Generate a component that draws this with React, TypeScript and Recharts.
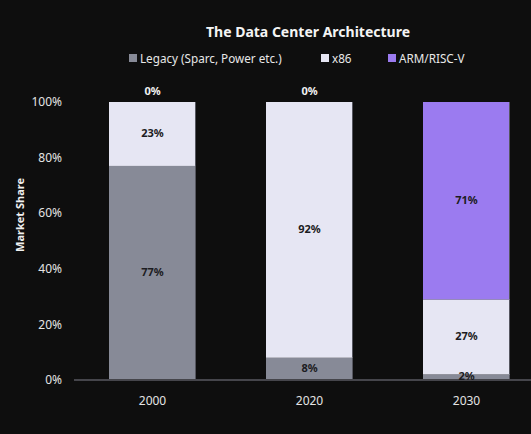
import { Bar, BarChart, LabelList, XAxis, YAxis, Label } from "recharts"

const years = ["2000", "2020", "2030"]
const legacy = [77, 8, 2]
const x86 = [23, 92, 27]
const arm = [0, 0, 71]
const yTicks = [0, 20, 40, 60, 80, 100]

const series = [
    { key: "legacy", name: "Legacy (Sparc, Power etc.)", color: "#878a97" },
    { key: "x86", name: "x86", color: "#e6e6f3" },
    { key: "arm", name: "ARM/RISC-V", color: "#9b7bf0" },
]
// legend item left edges
const legendX = [129, 321, 388]

const data = years.map((year, i) => ({ year, legacy: legacy[i], x86: x86[i], arm: arm[i] }))

const font = "'Noto Sans', sans-serif"

const EdgeBar = (props: any) => {
    const { x, y, width, height, fill } = props
    if (!height || height <= 0) return null
    return (
        <g>
            <rect x={x} y={y} width={width} height={height} fill={fill} />
            <line x1={x + width - 0.5} x2={x + width - 0.5} y1={y} y2={y + height} stroke="#55565f" strokeWidth={1} />
        </g>
    )
}

const SegmentLabel = (props: any) => {
    const { x, y, width, height, value } = props
    if (value === 0) {
        return (
            <text x={x + width / 2} y={y - 10} textAnchor="middle" dominantBaseline="middle"
                fill="#f2f2f2" fontSize={11} fontWeight={700} fontFamily={font}>
                0%
            </text>
        )
    }
    return (
        <text x={x + width / 2} y={y + height / 2} textAnchor="middle" dominantBaseline="middle"
            fill="#1c1c22" fontSize={11} fontWeight={700} fontFamily={font}>
            {value}%
        </text>
    )
}

export default function App() {
    return (
        <div style={{ position: "absolute", left: 0, top: 0, width: 531, height: 434, overflow: "hidden", background: "#0e0e0e", fontFamily: font }}>
            <div style={{ position: "absolute", top: 22, left: 0, width: 616, textAlign: "center", color: "#f4f4f4", fontSize: 14, fontWeight: 700 }}>
                The Data Center Architecture
            </div>
            {series.map((s, i) => (
                <div key={s.key} style={{ position: "absolute", top: 50, left: legendX[i], display: "flex", alignItems: "center", color: "#e8e8e8", fontSize: 11.7 }}>
                    <span style={{ display: "inline-block", width: 8, height: 8, background: s.color, marginRight: 3 }} />
                    <span>{s.name}</span>
                </div>
            ))}
            <BarChart width={560} height={434} data={data} margin={{ top: 102, right: 15, bottom: 24, left: 0 }}>
                <XAxis dataKey="year" axisLine={{ stroke: "#45454b", strokeWidth: 2 }} tickLine={false}
                    tick={{ fill: "#e4e4e4", fontSize: 12, fontFamily: font }} tickMargin={10} />
                <YAxis domain={[0, 100]} ticks={yTicks} width={74} axisLine={false} tickLine={false} tickSize={0} tickMargin={12}
                    tickFormatter={(v) => `${v}%`} tick={{ fill: "#e4e4e4", fontSize: 12, fontFamily: font }}>
                    <Label content={() => (
                        <text x={21} y={215} transform="rotate(-90 21 215)" textAnchor="middle" dominantBaseline="middle"
                            fill="#f0f0f0" fontSize={11} fontWeight={700} fontFamily={font}>
                            Market Share
                        </text>
                    )} />
                </YAxis>
                {series.map((s) => (
                    <Bar key={s.key} dataKey={s.key} name={s.name} stackId="a" fill={s.color} barSize={87}
                        shape={EdgeBar} isAnimationActive={false}>
                        <LabelList dataKey={s.key} content={SegmentLabel} />
                    </Bar>
                ))}
            </BarChart>
        </div>
    )
}
